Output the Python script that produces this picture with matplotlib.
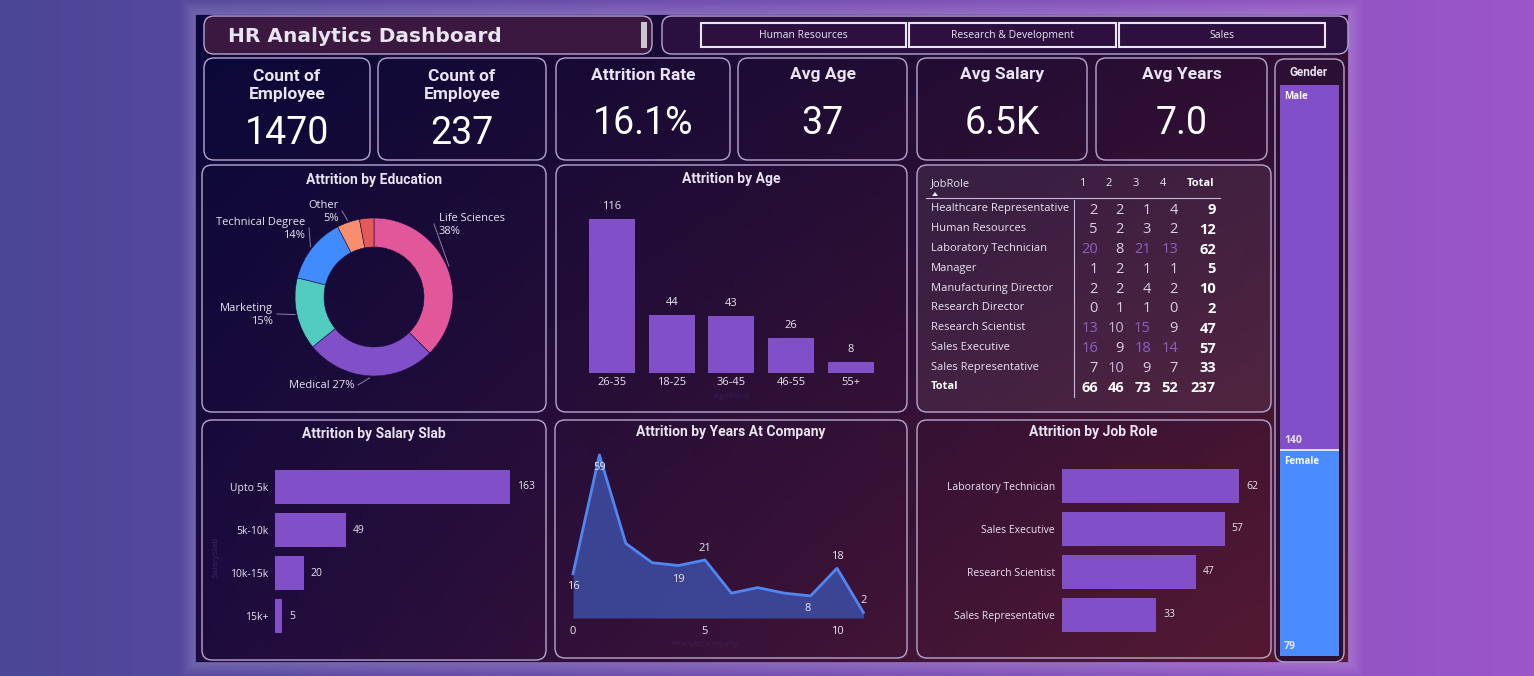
import numpy as np
import matplotlib
matplotlib.use('Agg')
import matplotlib.pyplot as plt
from matplotlib.patches import FancyBboxPatch, Rectangle, Polygon
from matplotlib.colors import to_rgb

W, H = 1534, 676

# ---- data ----
kpi_titles = ['Count of\nEmployee', 'Count of\nEmployee', 'Attrition Rate',
              'Avg Age', 'Avg Salary', 'Avg Years']
kpi_values = ['1470', '237', '16.1%', '37', '6.5K', '7.0']
departments = ['Human Resources', 'Research & Development', 'Sales']

edu_fields = ['Life Sciences', 'Medical', 'Marketing', 'Technical Degree',
              'Other', 'Human Resources']
edu_counts = [89, 63, 35, 32, 11, 7]

age_bands = ['26-35', '18-25', '36-45', '46-55', '55+']
age_counts = [116, 44, 43, 26, 8]

table_roles = ['Healthcare Representative', 'Human Resources',
               'Laboratory Technician', 'Manager', 'Manufacturing Director',
               'Research Director', 'Research Scientist', 'Sales Executive',
               'Sales Representative']
edu_levels = ['1', '2', '3', '4']
role_by_level = [[2, 2, 1, 4],
                 [5, 2, 3, 2],
                 [20, 8, 21, 13],
                 [1, 2, 1, 1],
                 [2, 2, 4, 2],
                 [0, 1, 1, 0],
                 [13, 10, 15, 9],
                 [16, 9, 18, 14],
                 [7, 10, 9, 7]]

salary_slabs = ['Upto 5k', '5k-10k', '10k-15k', '15k+']
salary_counts = [163, 49, 20, 5]

years = list(range(12))
years_counts = [16, 59, 27, 20, 19, 21, 9, 11, 9, 8, 18, 2]

top_roles = ['Laboratory Technician', 'Sales Executive', 'Research Scientist',
             'Sales Representative']
top_role_counts = [62, 57, 47, 33]

genders = ['Male', 'Female']
gender_counts = [140, 79]

# ---- styling ----
PURPLE = '#8150c9'
BLUE = '#4a8cff'
TXT = '#e9e3f2'
EDGE = '#b7a6d2'
TFONT = 'Roboto'
LFONT = 'Open Sans'
edu_colors = ['#e2569a', '#8150c9', '#52cbc1', '#408cff', '#f98e6f', '#e45a5a']

fig = plt.figure(figsize=(W / 100, H / 100), dpi=100)

bg = fig.add_axes([0, 0, 1, 1])
bg.set_xlim(0, W)
bg.set_ylim(H, 0)
bg.axis('off')


def lerp(c1, c2, t):
    return np.array(c1) * (1 - t) + np.array(c2) * t


# outer page gradient
t = np.linspace(0, 1, 300)
page = np.array([lerp((75, 70, 150), (156, 86, 202), v) for v in t]) / 255
bg.imshow(page[None, :, :], extent=(0, W, H, 0), aspect='auto', zorder=0)

# glow around dashboard
for k in range(1, 16):
    bg.add_patch(Rectangle((196 - k, 15 - k), 1152 + 2 * k, 647 + 2 * k,
                           fill=False, ec='white', lw=1.3,
                           alpha=0.10 * (1 - k / 16), zorder=1))

# dashboard gradient
nx, ny = 200, 100
u = np.linspace(0, 1, nx)[None, :, None]
v = np.linspace(0, 1, ny)[:, None, None]
TL, TR = np.array((10, 8, 55)), np.array((45, 14, 50))
BL, BR = np.array((30, 12, 62)), np.array((88, 26, 48))
dash = (TL * (1 - u) * (1 - v) + TR * u * (1 - v) + BL * (1 - u) * v + BR * u * v) / 255
bg.imshow(dash, extent=(196, 1348, 662, 15), aspect='auto', zorder=2)


def panel(x0, y0, x1, y1, fc='none', ec=EDGE, lw=1.0, r=10):
    p = FancyBboxPatch((x0, y0), x1 - x0, y1 - y0,
                       boxstyle=f'round,pad=0,rounding_size={r}',
                       fc=fc, ec=ec, lw=lw, zorder=3)
    bg.add_patch(p)


def add_ax(x0, y0, x1, y1):
    ax = fig.add_axes([x0 / W, 1 - y1 / H, (x1 - x0) / W, (y1 - y0) / H])
    ax.patch.set_alpha(0)
    for s in ax.spines.values():
        s.set_visible(False)
    return ax


# header
panel(204, 16, 652, 54, fc='#3a1840')
bg.text(228, 36, 'HR Analytics Dashboard', color=TXT, fontsize=14.5,
        fontweight='heavy', family='DejaVu Sans', va='center', zorder=5)
bg.add_patch(Rectangle((641, 22), 6, 26, fc='#c9c6cf', zorder=5))

panel(662, 16, 1348, 54, fc='#2a1040')
btn_boxes = [(701, 906), (909, 1116), (1119, 1325)]
for (bx0, bx1), name in zip(btn_boxes, departments):
    bg.add_patch(Rectangle((bx0, 23), bx1 - bx0, 24, fc='#2e1040',
                           ec='#eae6f0', lw=1.5, zorder=4))
    bg.text((bx0 + bx1) / 2, 35.5, name, color=TXT, fontsize=7.5,
            family=LFONT, ha='center', va='center', zorder=5)

# KPI cards
card_boxes = [(204, 370), (378, 546), (556, 730), (738, 907), (917, 1087), (1096, 1267)]
for (cx0, cx1), title, val in zip(card_boxes, kpi_titles, kpi_values):
    panel(cx0, 58, cx1, 160)
    cx = (cx0 + cx1) / 2
    two = '\n' in title
    bg.text(cx, 85.5 if two else 75, title, color=TXT, fontsize=12.5,
            fontweight='bold', family=TFONT, ha='center', va='center',
            linespacing=1.3, zorder=5)
    bg.text(cx, 134 if two else 124, val, color='white', fontsize=27,
            family=TFONT, ha='center', va='center', zorder=5)

# chart panels
panel(202, 165, 546, 412)
panel(556, 165, 907, 412)
panel(917, 165, 1271, 412, fc=(1, 1, 1, 0.07))
panel(202, 420, 546, 660)
panel(555, 420, 907, 658)
panel(917, 420, 1271, 658)
panel(1275, 59, 1344, 662, fc='#2c0f33')

titles = [(374, 180, 'Attrition by Education'), (731, 179, 'Attrition by Age'),
          (374, 434, 'Attrition by Salary Slab'), (731, 432, 'Attrition by Years At Company'),
          (1093, 432, 'Attrition by Job Role'), (1309, 72, 'Gender')]
for x, y, s in titles:
    bg.text(x, y, s, color=TXT, fontsize=10 if s != 'Gender' else 8.5,
            fontweight='bold', family=TFONT, ha='center', va='center', zorder=5)

# faint axis titles
bg.text(216, 557, 'SalarySlab', color='#3a2a5a', fontsize=6, rotation=90,
        ha='center', va='center', family=LFONT, zorder=5)
bg.text(731, 397, 'AgeBand', color='#35205a', fontsize=6, ha='center',
        va='center', family=LFONT, zorder=5)
bg.text(705, 645, 'YearsAtCompany', color='#45204f', fontsize=6, ha='center',
        va='center', family=LFONT, zorder=5)

# ---- donut: attrition by education ----
ax = add_ax(202, 165, 546, 412)
cx, cy, r = 374, 297, 79
ax.pie(edu_counts, colors=edu_colors, startangle=90, counterclock=False,
       radius=r, center=(cx, H - cy),
       wedgeprops=dict(width=29, edgecolor='#1a0c40', linewidth=0.4))
ax.set_xlim(202, 546)
ax.set_ylim(H - 412, H - 165)
ax.set_aspect('equal')
ax.axis('off')

total_edu = sum(edu_counts)
fracs = np.array(edu_counts) / total_edu
mids = 90 - 360 * (np.cumsum(fracs) - fracs / 2)
# label layout: (text x, text y, ha, leader end x, leader end y)
edu_label_pos = [(439, 225, 'left', 434, 224),
                 (354, 385, 'right', 358, 385),
                 (273, 315, 'right', 277, 314),
                 (305, 229, 'right', 309, 228),
                 (339, 212, 'right', 342, 211)]
for i, (tx, ty, ha, ex, ey) in enumerate(edu_label_pos):
    pct = round(100 * edu_counts[i] / total_edu)
    sep = ' ' if edu_fields[i] == 'Medical' else '\n'
    bg.text(tx, ty, f'{edu_fields[i]}{sep}{pct}%', color=TXT, fontsize=8,
            family=LFONT, ha=ha, va='center', multialignment=ha,
            linespacing=1.35, zorder=5)
    a = np.radians(mids[i])
    sx, sy = cx + (r + 2) * np.cos(a), cy - (r + 2) * np.sin(a)
    bg.plot([sx, ex], [sy, ey], color='#8a80a8', lw=0.7, zorder=5)

# ---- attrition by age ----
ax = add_ax(560, 200, 904, 373)
xa = np.arange(len(age_bands))
ax.bar(xa, age_counts, width=0.77, color=PURPLE)
ax.set_xlim(-0.870, 4.887)
ax.set_ylim(0, 130.3)
ax.set_xticks(xa)
ax.set_xticklabels(age_bands, color=TXT, fontsize=8, family=LFONT)
ax.tick_params(axis='x', length=0, pad=3)
ax.set_yticks([])
for i, c in enumerate(age_counts):
    ax.annotate(str(c), (i, c), xytext=(0, 9), textcoords='offset points',
                ha='center', va='center', color=TXT, fontsize=8, family=LFONT)

# ---- table: job role by education level ----
col_right = [1098, 1124, 1151, 1178]
head_x = [1082, 1109, 1136, 1163]
total_right = 1216
row_y0, row_dy = 209, 19.8
bg.text(931, 184, 'JobRole', color=TXT, fontsize=8, family=LFONT,
        va='center', zorder=5)
bg.add_patch(Polygon([[932, 196], [938, 196], [935, 192]], closed=True,
                     fc=TXT, ec='none', zorder=5))
for hx, lvl in zip(head_x, edu_levels):
    bg.text(hx, 184, lvl, color=TXT, fontsize=8, family=LFONT, ha='center',
            va='center', zorder=5)
bg.text(1214, 184, 'Total', color='white', fontsize=8, fontweight='bold',
        family=LFONT, ha='right', va='center', zorder=5)
bg.plot([926, 1220], [198, 198], color='#c8b8dc', lw=0.8, zorder=5)
bg.plot([1074, 1074], [200, 397], color='#c8b8dc', lw=0.8, zorder=5)

light = to_rgb('#d9d0e4')
purp = to_rgb('#8d5fc6')


def cell_color(val):
    k = np.clip((val - 9) / 4, 0, 1)
    return tuple(lerp(light, purp, k))


for j, role in enumerate(table_roles):
    y = row_y0 + j * row_dy
    bg.text(931, y, role, color=TXT, fontsize=8, family=LFONT, va='center', zorder=5)
    for k, val in enumerate(role_by_level[j]):
        bg.text(col_right[k], y + 1, str(val), color=cell_color(val), fontsize=10.5,
                family=LFONT, ha='right', va='center', zorder=5)
    bg.text(total_right, y + 1, str(sum(role_by_level[j])), color='white',
            fontsize=10.5, fontweight='bold', family=LFONT, ha='right',
            va='center', zorder=5)
y = row_y0 + len(table_roles) * row_dy
bg.text(931, y - 1, 'Total', color='white', fontsize=8, fontweight='bold',
        family=LFONT, va='center', zorder=5)
col_totals = np.sum(role_by_level, axis=0)
for k, val in enumerate(col_totals):
    bg.text(col_right[k], y + 1, str(val), color='white', fontsize=10.5,
            fontweight='bold', family=LFONT, ha='right', va='center', zorder=5)
bg.text(total_right, y + 1, str(int(col_totals.sum())), color='white',
        fontsize=10.5, fontweight='bold', family=LFONT, ha='right',
        va='center', zorder=5)


# ---- horizontal bar helper ----
def hbars(box, labels, counts, xmax, ylims):
    ax = add_ax(*box)
    yy = np.arange(len(labels))
    ax.barh(yy, counts, height=0.77, color=PURPLE)
    ax.set_xlim(0, xmax)
    ax.set_ylim(*ylims)
    ax.set_yticks(yy)
    ax.set_yticklabels(labels, color=TXT, fontsize=7.5, family=LFONT)
    ax.tick_params(axis='y', length=0, pad=5)
    ax.set_xticks([])
    for i, c in enumerate(counts):
        ax.annotate(str(c), (c, i), xytext=(5, 0), textcoords='offset points',
                    ha='left', va='center', color=TXT, fontsize=7.5, family=LFONT)
    return ax


hbars((275, 455, 540, 645), salary_slabs, salary_counts, 183.8, (3.674, -0.744))
hbars((1062, 455, 1265, 645), top_roles, top_role_counts, 71.1, (3.698, -0.721))

# ---- attrition by years at company ----
ax = add_ax(565, 445, 895, 618)
ax.fill_between(years, years_counts, color='#3c4899', alpha=0.95, lw=0)
ax.plot(years, years_counts, color='#4f86f2', lw=2)
ax.set_xlim(-0.303, 12.197)
ax.set_ylim(0, 62.6)
ax.set_xticks([0, 5, 10])
ax.set_xticklabels(['0', '5', '10'], color=TXT, fontsize=8, family=LFONT)
ax.tick_params(axis='x', length=0, pad=6)
ax.set_yticks([])
# which points carry labels, and where the label sits (offset in points)
year_label_offsets = {0: (0, -9.5), 1: (0, -9), 4: (0, -10), 5: (0, 8.5),
                      9: (-2, -9), 10: (0, 8.5), 11: (0, 8.5)}
for i, off in year_label_offsets.items():
    ax.annotate(str(years_counts[i]), (years[i], years_counts[i]), xytext=off,
                textcoords='offset points', ha='center', va='center',
                color=TXT, fontsize=8, family=LFONT)

# ---- gender treemap ----
ax = add_ax(1280, 85, 1339, 656)
ax.bar(0, gender_counts[0], width=1, bottom=0, color=PURPLE)
ax.bar(0, gender_counts[1], width=1, bottom=gender_counts[0], color=BLUE)
ax.axhline(gender_counts[0], color='#eeeaf5', lw=1.3)
ax.set_xlim(-0.5, 0.5)
ax.set_ylim(sum(gender_counts), 0)
ax.set_xticks([])
ax.set_yticks([])
bottom = 0
for g, c in zip(genders, gender_counts):
    ax.annotate(g, (-0.5, bottom), xytext=(3, -8), textcoords='offset points',
                ha='left', va='center', color='white', fontsize=7,
                fontweight='bold', family=LFONT)
    ax.annotate(str(c), (-0.5, bottom + c), xytext=(3, 6.5), textcoords='offset points',
                ha='left', va='center', color='#e8e2f0', fontsize=7.5,
                fontweight='bold', family=LFONT)
    bottom += c

fig.savefig('out.png', dpi=100)
